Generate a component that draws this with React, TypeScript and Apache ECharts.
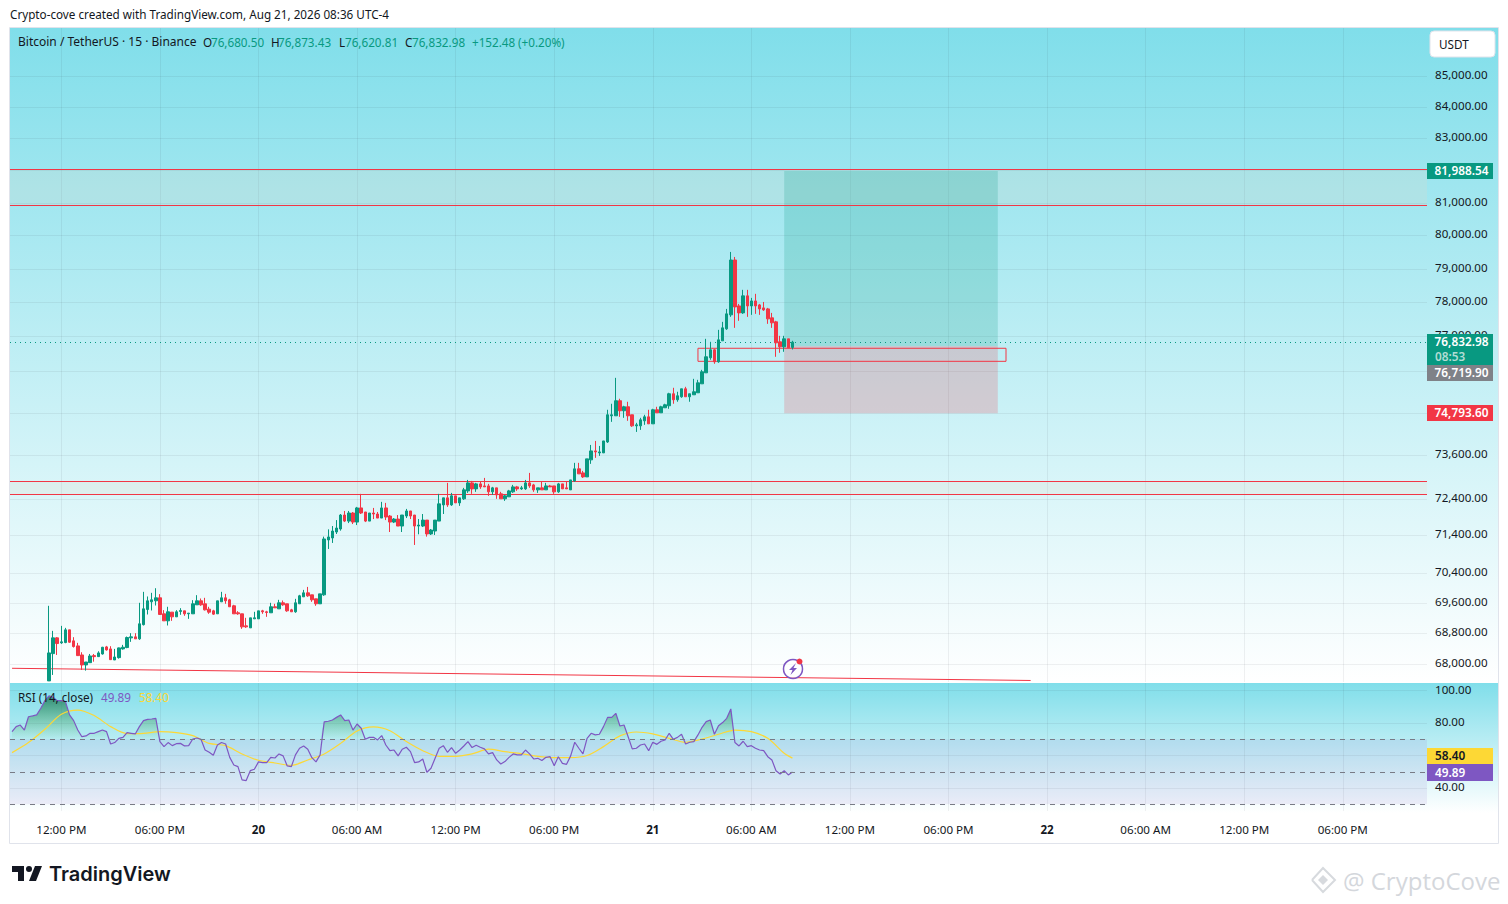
import React, { useEffect, useRef } from "react";
import * as echarts from "echarts";

const FONT = '"Noto Sans", sans-serif';
const UP = "#089981";
const DOWN = "#f23645";
const INK = "#131722";

const BAR_COUNT = 345;
const FIRST_CANDLE_BAR = 9;
const TICK_BARS = [12, 36, 60, 84, 108, 132, 156, 180, 204, 228, 252, 276, 300, 324];
const TICK_LABELS = ["12:00 PM", "06:00 PM", "20", "06:00 AM", "12:00 PM", "06:00 PM", "21", "06:00 AM", "12:00 PM", "06:00 PM", "22", "06:00 AM", "12:00 PM", "06:00 PM"];
const BOLD_TICKS = ["20", "21", "22"];
const PRICE_GRID_TICKS = [85000, 84000, 83000, 82000, 81000, 80000, 79000, 78000, 77000, 76000, 74800, 73600, 72400, 71400, 70400, 69600, 68800, 68000];
const PRICE_LABEL_TICKS = [85000, 84000, 83000, 81000, 80000, 79000, 78000, 77000, 73600, 72400, 71400, 70400, 69600, 68800, 68000];
const RSI_GRID_TICKS = [40, 60, 80, 100];
const RSI_LABEL_TICKS = [40, 80, 100];
const RSI_LEVELS = [70, 50, 30];

const LAST_PRICE = 76832.98;
const TARGET = 81988.54;
const ENTRY = 76719.9;
const STOP = 74793.6;
const UPPER_ZONE = [82033, 80927];
const LOWER_ZONE = [72875, 72532];
const ENTRY_BOX = [76656, 76278];
const TREND_LINE = [[0, 67896], [248, 67583]];

// [open, high, low, close]
const CANDLES = [
[67572,69524,67572,68293],[68275,68867,67725,68684],[68684,68702,68240,68536],[68554,68997,68528,68580],[68562,68945,68545,68893],[68893,68893,68554,68571],
[68606,68702,68432,68458],[68475,68554,68214,68223],[68240,68310,67853,67982],[67982,68058,67836,68058],[68041,68266,68033,68214],[68223,68266,68067,68197],
[68197,68336,68188,68293],[68266,68449,68249,68440],[68449,68475,68353,68371],[68397,68467,68110,68119],[68110,68397,68110,68188],[68171,68432,68145,68423],
[68397,68502,68379,68440],[68432,68719,68415,68693],[68684,68806,68580,68710],[68710,68806,68658,68658],[68658,69603,68632,69051],[69029,69893,69007,69444],
[69427,69770,69296,69656],[69629,69867,69401,69682],[69656,69989,69532,69735],[69735,69832,69296,69296],[69313,69410,69129,69129],[69129,69498,69007,69366],
[69357,69357,69129,69234],[69234,69410,69234,69366],[69375,69462,69287,69401],[69392,69392,69261,69313],[69313,69331,69181,69331],[69313,69673,69313,69577],
[69550,69805,69550,69656],[69656,69717,69524,69550],[69577,69735,69401,69418],[69436,69498,69313,69357],[69392,69418,69287,69305],[69313,69656,69313,69656],
[69629,69893,69629,69735],[69735,69840,69577,69656],[69682,69708,69498,69498],[69524,69550,69313,69313],[69340,69383,69287,69313],[69313,69313,68919,68971],
[68997,69208,68945,68971],[68945,69208,68945,69208],[69181,69366,69181,69208],[69181,69392,69181,69392],[69392,69418,69313,69366],[69366,69392,69234,69348],
[69340,69603,69340,69498],[69498,69577,69471,69471],[69444,69682,69444,69603],[69603,69664,69524,69550],[69577,69577,69366,69392],[69418,69444,69366,69366],
[69366,69708,69340,69603],[69577,69814,69577,69788],[69761,69945,69761,69867],[69867,70024,69761,69788],[69814,69814,69629,69682],[69708,69708,69524,69577],
[69577,69840,69577,69840],[69814,71372,69788,71309],[71282,71569,71039,71363],[71336,71659,71201,71524],[71497,71821,71443,71605],[71579,71987,71533,71959],
[71959,72070,71767,71794],[71794,72070,71740,72014],[72014,72042,71713,71767],[71767,72181,71686,72153],[72153,72539,71987,72014],[72042,72042,71767,71794],
[71794,72014,71794,72014],[72014,72153,71849,71987],[71987,72042,71876,71876],[71876,72319,71876,72153],[72153,72291,71821,71904],[71932,71959,71497,71767],
[71767,71876,71740,71849],[71849,71959,71659,71659],[71659,71959,71497,71959],[71932,72126,71876,72070],[72070,72070,71849,71932],[71959,71959,71147,71659],
[71659,71849,71435,71686],[71659,71987,71632,71821],[71821,71821,71372,71444],[71444,71579,71417,71551],[71524,71821,71417,71821],[71794,72539,71794,72264],
[72236,72429,71987,72429],[72429,72841,72181,72236],[72236,72566,72209,72484],[72484,72484,72291,72291],[72291,72429,72209,72429],[72402,72704,72374,72649],
[72621,72923,72566,72841],[72841,72896,72539,72676],[72676,72841,72594,72814],[72814,72868,72676,72731],[72758,72979,72731,72731],[72758,72814,72484,72594],
[72594,72731,72511,72704],[72704,72704,72402,72511],[72539,72594,72402,72402],[72402,72511,72346,72484],[72457,72649,72457,72621],[72594,72786,72566,72731],
[72731,72758,72621,72676],[72676,72758,72649,72704],[72676,72923,72649,72841],[72841,73118,72704,72758],[72786,72814,72594,72649],[72649,72704,72566,72704],
[72704,72868,72649,72649],[72649,72841,72649,72758],[72758,72786,72731,72731],[72758,72758,72539,72594],[72594,72841,72566,72814],[72814,72814,72676,72676],
[72704,72868,72676,72676],[72649,72923,72649,72923],[72896,73397,72868,73230],[73230,73397,73091,73091],[73118,73174,72979,73007],[73007,73508,73007,73508],
[73480,73897,73369,73730],[73730,74009,73536,73702],[73675,73869,73591,73702],[73675,74009,73675,74009],[73980,74889,73953,74747],[74718,75060,74547,74747],
[74718,75801,74718,75146],[75146,75203,74689,74861],[74861,75003,74661,74974],[74974,75117,74576,74718],[74747,74747,74405,74434],[74434,74519,74263,74462],
[74434,74661,74320,74604],[74576,74747,74462,74689],[74689,74889,74491,74491],[74491,74917,74491,74889],[74889,74974,74803,74803],[74803,75003,74803,74974],
[74946,75060,74946,75031],[75003,75373,74917,75345],[75345,75516,75060,75174],[75174,75402,75117,75288],[75259,75487,75231,75487],[75487,75544,75259,75259],
[75259,75345,75117,75345],[75316,75773,75316,75402],[75373,75744,75373,75658],[75630,76032,75630,75975],[75946,76931,75946,76409],[76380,76844,76322,76612],
[76612,76641,76206,76264],[76264,77194,76235,76902],[76873,77428,76873,77252],[77223,77809,77194,77663],[77634,79508,77575,79266],[79266,79357,77252,77868],
[77897,77956,77458,77692],[77692,78374,77663,78195],[78195,78374,77575,77897],[77897,78135,77634,78044],[78044,78255,77663,77897],[77927,77956,77634,77809],
[77839,78015,77751,77780],[77809,77839,77370,77516],[77546,77692,77252,77399],[77428,77458,76409,76815],[76844,77019,76525,76699],[76699,77019,76554,76931],
[76931,76931,76670,76670],[76680.5,76873.43,76620.81,76832.98],
];

const RSI_VALUES = [
74.7,77.8,78.8,75.7,83.9,84.4,85.0,89.1,93.8,96.7,95.8,93.8,93.8,93.2,85.0,81.5,75.7,71.6,72.1,73.7,
73.7,74.7,75.7,74.7,67.1,68.0,70.6,71.2,74.1,73.7,73.3,77.8,81.5,82.3,82.5,82.9,68.6,65.5,68.0,66.1,
67.3,67.5,65.9,66.1,70.2,70.8,70.0,63.4,62.0,60.2,66.5,68.0,67.1,58.9,54.2,53.2,45.0,44.6,50.7,51.6,
56.1,55.7,55.7,58.9,58.5,61.0,59.8,53.6,53.2,60.4,64.5,65.9,63.9,58.7,56.1,60.4,80.7,81.1,81.9,83.5,
85.0,81.5,81.9,75.7,79.4,76.8,70.0,71.2,71.2,69.6,72.3,66.5,63.0,63.4,59.8,63.9,65.1,62.4,55.7,56.1,
57.9,49.7,52.2,58.3,64.5,66.1,62.0,64.9,61.4,63.4,65.9,68.6,64.9,66.3,65.1,64.1,61.0,61.8,57.3,54.8,
56.3,58.9,61.0,60.4,60.4,63.4,61.0,57.9,58.3,56.9,58.9,59.3,53.8,59.3,55.2,54.6,59.8,68.2,64.5,61.0,
70.6,73.7,72.7,73.1,77.8,83.5,83.5,86.0,78.2,78.8,71.6,64.1,64.5,66.5,67.1,63.0,68.2,66.9,68.8,69.6,
73.7,70.0,71.2,73.1,67.1,68.2,68.6,72.7,77.4,80.9,81.9,73.1,78.4,80.3,82.9,88.7,68.0,65.9,68.8,65.5,
66.1,64.5,63.4,63.0,59.3,57.3,50.7,48.7,50.7,48.1,49.89,
];

// [bar, value] read every fourth bar along the smooth average
const RSI_AVERAGE = [
[0,61.8],[4,68.0],[8,76.2],[12,85.4],[16,88.0],[20,84.6],[24,77.8],[28,73.5],[32,73.7],[36,74.7],[40,74.1],[44,72.3],[48,67.5],[52,66.1],[56,61.0],[60,57.1],
[64,55.4],[68,54.0],[72,57.3],[76,61.0],[80,67.5],[84,75.1],[88,77.6],[92,75.3],[96,68.6],[100,63.0],[104,59.5],[108,59.5],[112,61.0],[116,63.9],[120,62.4],
[124,61.2],[128,59.5],[132,58.7],[136,58.7],[140,60.0],[144,65.5],[148,72.1],[152,74.5],[156,73.3],[160,70.6],[164,68.2],[168,70.2],[172,73.1],[176,75.7],
[180,74.7],[184,70.6],[188,61.4],[190,58.4],
];

const CATEGORIES = Array.from({ length: BAR_COUNT }, (_, i) => {
  const t = new Date(Date.UTC(2026, 7, 19, 9, 15 * i));
  return t.toISOString().slice(5, 16);
});

const tickLabel = (idx: number) => {
  const k = TICK_BARS.indexOf(idx);
  return k < 0 ? "" : TICK_LABELS[k];
};
const isTick = (idx: number) => TICK_BARS.includes(idx);
const GRID_LINE = "rgba(42,46,57,0.07)";

const badge = (y: number, h: number, fill: string, lines: { t: string; c: string; dy: number; x?: number; align?: string }[]) => [
  { type: "rect", z: 50, shape: { x: 1427, y, width: 66, height: h }, style: { fill } },
  ...lines.map((l) => ({
    type: "text", z: 51, x: l.x ?? 1461.5, y: y + l.dy,
    style: { text: l.t, fill: l.c, font: `600 11.8px ${FONT}`, align: l.align ?? "center", verticalAlign: "middle" },
  })),
];
const txt = (x: number, y: number, t: string, fill: string, font = `11.7px ${FONT}`) => ({
  type: "text", z: 40, x, y, style: { text: t, fill, font, align: "left", verticalAlign: "middle" },
});
const axisRich = { a: { fontSize: 11.6, fontFamily: FONT, color: INK, padding: [0, 0, 3.4, 0] } };

export default function App() {
  const ref = useRef<HTMLDivElement>(null);
  useEffect(() => {
    if (!ref.current) return;
    echarts.graphic.registerShape(
      "tvLogo",
      echarts.graphic.extendPath("M14 6H2v6h6v9h6V6Zm12 15h-7l6-15h7l-6 15Zm-7-9a3 3 0 1 0 0-6 3 3 0 0 0 0 6Z", {})
    );
    const chart = echarts.init(ref.current, undefined, { renderer: "svg", width: 1508, height: 904 });

    const candleData = [
      ...Array.from({ length: FIRST_CANDLE_BAR }, () => ["-", "-", "-", "-"]),
      ...CANDLES.map(([o, h, l, c]) => [o, c, l, h]),
    ];
    const overbought = RSI_VALUES.map((v) => Math.max(v, 70));

    const hLine = (v: number) => ({ yAxis: v });
    chart.setOption({
      animation: false,
      textStyle: { fontFamily: FONT },
      grid: [
        { left: 10, top: 28, width: 1417, height: 654 },
        { left: 10, top: 683, width: 1417, height: 128 },
      ],
      xAxis: [
        {
          gridIndex: 0, type: "category", data: CATEGORIES,
          axisLine: { show: false }, axisTick: { show: false, alignWithLabel: true, interval: (i: number) => isTick(i) }, axisLabel: { show: false, interval: (i: number) => isTick(i) },
          splitLine: { show: true, alignWithLabel: true, interval: (i: number) => isTick(i), lineStyle: { color: GRID_LINE, width: 1 } },
        },
        {
          gridIndex: 1, type: "category", data: CATEGORIES,
          axisLine: { show: false }, axisTick: { show: false, alignWithLabel: true, interval: (i: number) => isTick(i) },
          splitLine: { show: true, alignWithLabel: true, interval: (i: number) => isTick(i), lineStyle: { color: GRID_LINE, width: 1 } },
          axisLabel: {
            show: true, margin: 12, interval: (i: number) => isTick(i), color: INK, fontSize: 11.6, fontFamily: FONT, hideOverlap: false,
            formatter: (_: string, idx: number) => {
              const s = tickLabel(idx);
              return BOLD_TICKS.includes(s) ? `{b|${s}}` : s;
            },
            rich: { b: { fontWeight: 700, fontSize: 11.6, fontFamily: FONT, color: INK } },
          },
        },
      ],
      yAxis: [
        {
          gridIndex: 0, type: "log", logBase: 10, position: "right", min: 67544, max: 86555,
          axisLine: { show: false }, axisTick: { show: false, customValues: PRICE_GRID_TICKS },
          splitLine: { show: true, lineStyle: { color: GRID_LINE, width: 1 } }, minorSplitLine: { show: false },
          axisLabel: {
            show: true, margin: 8, color: INK, fontSize: 11.6, fontFamily: FONT, rich: axisRich,
            customValues: PRICE_LABEL_TICKS,
            formatter: (v: number) => `{a|${v.toLocaleString("en-US", { minimumFractionDigits: 2, maximumFractionDigits: 2 })}}`,
          },
        },
        {
          gridIndex: 1, type: "value", position: "right", min: 25.88, max: 104.65,
          axisLine: { show: false }, axisTick: { show: false, customValues: RSI_GRID_TICKS },
          splitLine: { show: true, lineStyle: { color: GRID_LINE, width: 1 } },
          axisLabel: {
            show: true, margin: 8, color: INK, fontSize: 11.6, fontFamily: FONT, customValues: RSI_LABEL_TICKS, rich: { a: { ...axisRich.a, padding: [0, 0, 2.4, 0] } },
            formatter: (v: number) => `{a|${v.toFixed(2)}}`,
          },
        },
      ],
      series: [
        {
          type: "candlestick", xAxisIndex: 0, yAxisIndex: 0, data: candleData, barWidth: 3, clip: true, z: 5,
          itemStyle: { color: UP, color0: DOWN, borderColor: UP, borderColor0: DOWN, borderWidth: 1 },
          markArea: {
            silent: true, z: 1,
            label: { show: false },
            data: [
              [{ yAxis: UPPER_ZONE[0], itemStyle: { color: "rgba(235,215,195,0.2)" } }, { yAxis: UPPER_ZONE[1] }],
              [{ yAxis: LOWER_ZONE[0], itemStyle: { color: "rgba(235,215,195,0.2)" } }, { yAxis: LOWER_ZONE[1] }],
              [{ xAxis: CATEGORIES[188], yAxis: TARGET, itemStyle: { color: "rgba(8,153,129,0.2)" } }, { xAxis: CATEGORIES[240], yAxis: ENTRY }],
              [{ xAxis: CATEGORIES[188], yAxis: ENTRY, itemStyle: { color: "rgba(242,54,69,0.2)" } }, { xAxis: CATEGORIES[240], yAxis: STOP }],
              [{ xAxis: CATEGORIES[167], yAxis: ENTRY_BOX[0], itemStyle: { color: "rgba(0,0,0,0)", borderColor: DOWN, borderWidth: 1 } }, { xAxis: CATEGORIES[242], yAxis: ENTRY_BOX[1] }],
            ],
          },
          markLine: {
            silent: true, symbol: "none", label: { show: false }, z: 3,
            lineStyle: { color: DOWN, width: 1, type: "solid" },
            data: [
              hLine(UPPER_ZONE[0]), hLine(UPPER_ZONE[1]), hLine(LOWER_ZONE[0]), hLine(LOWER_ZONE[1]),
              { yAxis: LAST_PRICE, lineStyle: { color: UP, width: 1, type: [1, 4] } },
              [{ coord: [TREND_LINE[0][0], TREND_LINE[0][1]] }, { coord: [TREND_LINE[1][0], TREND_LINE[1][1]] }],
            ],
          },
        },
        {
          type: "line", xAxisIndex: 1, yAxisIndex: 1, data: overbought, showSymbol: false, lineStyle: { width: 0 }, z: 2,
          areaStyle: {
            origin: 70, opacity: 1,
            color: new echarts.graphic.LinearGradient(0, 695, 0, 740, [
              { offset: 0, color: "rgba(30,120,95,0.85)" },
              { offset: 1, color: "rgba(76,175,80,0)" },
            ], true),
          },
        },
        {
          type: "line", xAxisIndex: 1, yAxisIndex: 1, data: RSI_VALUES, showSymbol: false, z: 4,
          lineStyle: { color: "#7e57c2", width: 1.2 },
          markArea: {
            silent: true, z: 1, label: { show: false },
            data: [[{ yAxis: RSI_LEVELS[0], itemStyle: { color: "rgba(126,87,194,0.1)" } }, { yAxis: RSI_LEVELS[2] }]],
          },
          markLine: {
            silent: true, symbol: "none", label: { show: false },
            lineStyle: { color: "#787b86", width: 1, type: [5, 5] },
            data: RSI_LEVELS.map((v) => ({ yAxis: v })),
          },
        },
        {
          type: "line", xAxisIndex: 1, yAxisIndex: 1, data: RSI_AVERAGE, showSymbol: false, smooth: 0.3, z: 3, connectNulls: true,
          lineStyle: { color: "#fdd835", width: 1.2 },
        },
      ],
      graphic: {
        elements: [
          {
            type: "rect", z: -10, silent: true, shape: { x: 10, y: 28, width: 1488, height: 654 },
            style: { fill: new echarts.graphic.LinearGradient(0, 0, 0, 1, [{ offset: 0, color: "#80deea" }, { offset: 1, color: "#ffffff" }]) },
          },
          {
            type: "rect", z: -10, silent: true, shape: { x: 10, y: 683, width: 1488, height: 130 },
            style: { fill: new echarts.graphic.LinearGradient(0, 0, 0, 1, [{ offset: 0, color: "#80deea" }, { offset: 1, color: "#ffffff" }]) },
          },
          { type: "rect", z: 60, silent: true, shape: { x: 9.5, y: 27.5, width: 1489, height: 816 }, style: { fill: "none", stroke: "#e0e3eb", lineWidth: 1 } },
          txt(10, 14, "Crypto-cove created with TradingView.com, Aug 21, 2026 08:36 UTC-4", INK),
          txt(18, 41.5, "Bitcoin / TetherUS · 15 · Binance", INK, `12px ${FONT}`),
          txt(203, 41.5, "O", INK), txt(211, 41.5, "76,680.50", UP),
          txt(271, 41.5, "H", INK), txt(278, 41.5, "76,873.43", UP),
          txt(339, 41.5, "L", INK), txt(345, 41.5, "76,620.81", UP),
          txt(405, 41.5, "C", INK), txt(412, 41.5, "76,832.98", UP),
          txt(472, 41.5, "+152.48", UP), txt(518, 41.5, "(+0.20%)", UP),
          txt(18, 696.5, "RSI (14, close)", INK), txt(101, 696.5, "49.89", "#7e57c2"), txt(139, 696.5, "58.40", "#fdd835"),
          { type: "rect", z: 40, shape: { x: 1430, y: 31, width: 65, height: 26, r: 4 }, style: { fill: "#ffffff", stroke: "#e0e3eb", lineWidth: 1 } },
          txt(1439, 44, "USDT", INK),
          ...badge(163, 16, UP, [{ t: "81,988.54", c: "#ffffff", dy: 7.2 }]),
          ...badge(334, 31, UP, [{ t: "76,832.98", c: "#ffffff", dy: 7.2 }, { t: "08:53", c: "#b2dcd4", dy: 21.5, x: 1435, align: "left" }]),
          ...badge(365, 16, "#7f8288", [{ t: "76,719.90", c: "#ffffff", dy: 7.2 }]),
          ...badge(405, 16, DOWN, [{ t: "74,793.60", c: "#ffffff", dy: 7.2 }]),
          ...badge(748, 16, "#fdd835", [{ t: "58.40", c: INK, dy: 7.2, x: 1435, align: "left" }]),
          ...badge(764, 17, "#7e57c2", [{ t: "49.89", c: "#ffffff", dy: 7.8, x: 1435, align: "left" }]),
          { type: "circle", z: 40, shape: { cx: 793, cy: 669, r: 9.5 }, style: { fill: "rgba(255,255,255,0.6)", stroke: "#7e57c2", lineWidth: 1.5 } },
          { type: "polygon", z: 41, shape: { points: [[796, 663], [789, 670], [792.5, 670], [790.5, 675], [797, 668], [793.5, 668]] }, style: { fill: "#7e57c2" } },
          { type: "circle", z: 42, shape: { cx: 799.5, cy: 661.5, r: 3 }, style: { fill: DOWN } },
          { type: "tvLogo", z: 40, x: 10, y: 860, style: { fill: INK } },
          { type: "text", z: 40, x: 49, y: 874, style: { text: "TradingView", fill: INK, font: `600 20px Inter, ${FONT}`, align: "left", verticalAlign: "middle" } },
          { type: "polyline", z: 40, shape: { points: [[1312, 880], [1323, 868], [1335, 880], [1323, 892], [1312, 880]] }, style: { fill: "none", stroke: "#d7dade", lineWidth: 2 } },
          { type: "polygon", z: 40, shape: { points: [[1323, 875], [1328, 880], [1323, 885], [1318, 880]] }, style: { fill: "#d7dade" } },
          { type: "text", z: 40, x: 1343, y: 880, style: { text: "@ CryptoCove", fill: "#d4d7dc", font: `24px "Open Sans", ${FONT}`, align: "left", verticalAlign: "middle" } },
        ],
      },
    });
    return () => chart.dispose();
  }, []);
  return (
    <div
      ref={ref}
      style={{ position: "absolute", left: 0, top: 0, width: 1508, height: 904, background: "#ffffff" }}
    />
  );
}
